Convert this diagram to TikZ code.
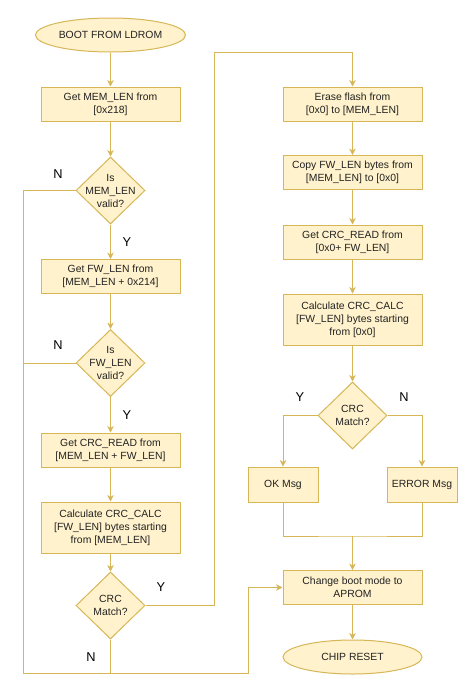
\documentclass[tikz,border=0pt]{standalone}
\usepackage{fontspec}
\setmainfont{Liberation Sans}
\usetikzlibrary{shapes.geometric,arrows.meta}

\definecolor{boxfill}{RGB}{255,242,204}
\definecolor{boxline}{RGB}{214,182,86}
\definecolor{boxtext}{RGB}{34,34,34}

\tikzset{every picture/.style={line width=0.75pt}}
\tikzset{
  process/.style={draw=boxline,fill=boxfill,minimum width=104.25pt,minimum height=25.5pt,inner sep=1pt,align=center,text=boxtext,font=\fontsize{7.8}{9.75}\selectfont},
  terminal/.style={process,ellipse},
  decision/.style={draw=boxline,fill=boxfill,diamond,minimum width=51.75pt,minimum height=50.25pt,inner sep=0pt},
  dtext/.style={align=center,text=boxtext,font=\fontsize{7.8}{9.75}\selectfont},
  flow/.style={draw=boxline,-{Stealth[length=4.8pt,width=4.8pt,inset=1.4pt]}},
  link/.style={draw=boxline},
  yn/.style={text=black,font=\fontsize{9.6}{11}\selectfont}
}

\begin{document}
\begin{tikzpicture}[x=0.75pt,y=0.75pt,yscale=-1,xscale=1]
	\useasboundingbox (0,0) rectangle (474,700);

	%Shape: Ellipse [id:start] 
	\node [terminal] (start) at (110.5,35) {BOOT FROM LDROM};
	%Shape: Rectangle [id:getmem] 
	\node [process] (getmem) at (110.5,104) {Get MEM\_LEN from\\{}[0x218]};
	%Shape: Diamond [id:memok] 
	\node [decision,label={[dtext]center:Is\\MEM\_LEN\\valid?}] (memok) at (110.5,190.5) {};
	%Shape: Rectangle [id:getfw] 
	\node [process] (getfw) at (110.5,276.5) {Get FW\_LEN from\\{}[MEM\_LEN + 0x214]};
	%Shape: Diamond [id:fwok] 
	\node [decision,label={[dtext]center:Is\\FW\_LEN\\valid?}] (fwok) at (110.5,363) {};
	%Shape: Rectangle [id:getcrc] 
	\node [process] (getcrc) at (110.5,450) {Get CRC\_READ from\\{}[MEM\_LEN + FW\_LEN]};
	%Shape: Rectangle [id:calccrc] 
	\node [process,minimum height=38.25pt] (calccrc) at (110.5,527.5) {Calculate CRC\_CALC\\{}[FW\_LEN] bytes starting\\from [MEM\_LEN]};
	%Shape: Diamond [id:crcok] 
	\node [decision,label={[dtext]center:CRC\\Match?}] (crcok) at (110.5,605.5) {};

	%Shape: Rectangle [id:erase] 
	\node [process] (erase) at (352.5,104) {Erase flash from\\{}[0x0] to [MEM\_LEN]};
	%Shape: Rectangle [id:copy] 
	\node [process] (copy) at (352.5,172.5) {Copy FW\_LEN bytes from\\{}[MEM\_LEN] to [0x0]};
	%Shape: Rectangle [id:getcrc2] 
	\node [process] (getcrcb) at (352.5,242) {Get CRC\_READ from\\{}[0x0+ FW\_LEN]};
	%Shape: Rectangle [id:calccrc2] 
	\node [process,minimum height=38.25pt] (calccrcb) at (352.5,319.5) {Calculate CRC\_CALC\\{}[FW\_LEN] bytes starting\\from [0x0]};
	%Shape: Diamond [id:crcokb] 
	\node [decision,label={[dtext]center:CRC\\Match?}] (crcokb) at (352.5,415.5) {};
	%Shape: Rectangle [id:okmsg] 
	\node [process,minimum width=52.5pt,minimum height=26.25pt] (okmsg) at (283,484.5) {OK Msg};
	%Shape: Rectangle [id:errmsg] 
	\node [process,minimum width=52.5pt,minimum height=26.25pt] (errmsg) at (422,484.5) {ERROR Msg};
	%Shape: Rectangle [id:aprom] 
	\node [process] (aprom) at (352.5,587.5) {Change boot mode to\\APROM};
	%Shape: Ellipse [id:reset] 
	\node [terminal] (reset) at (352.5,657) {CHIP RESET};

	% corners of the loops
	\coordinate (nleft) at (23,673);
	\coordinate (nright) at (248,673);
	\coordinate (ytop) at (214,52);
	\coordinate (merge) at (352.5,536);

	%Straight Lines [id:left column] 
	\draw [flow] (start) -- (getmem);
	\draw [flow] (getmem) -- (memok);
	\draw [flow] (memok) -- (getfw);
	\draw [flow] (getfw) -- (fwok);
	\draw [flow] (fwok) -- (getcrc);
	\draw [flow] (getcrc) -- (calccrc);
	\draw [flow] (calccrc) -- (crcok);
	%Straight Lines [id:N loop] 
	\draw [flow] (memok.west) -- (memok.west -| nleft) -- (nleft) -- (nright) |- (aprom.west);
	\draw [link] (fwok.west) -- (fwok.west -| nleft);
	\draw [link] (crcok.south) -- (crcok.south |- nleft);
	%Straight Lines [id:Y jump] 
	\draw [flow] (crcok.east) -| (ytop) -| (erase.north);

	%Straight Lines [id:right column] 
	\draw [flow] (erase) -- (copy);
	\draw [flow] (copy) -- (getcrcb);
	\draw [flow] (getcrcb) -- (calccrcb);
	\draw [flow] (calccrcb) -- (crcokb);
	\draw [flow] (crcokb.west) -| (okmsg.north);
	\draw [flow] (crcokb.east) -| (errmsg.north);
	\draw [link] (okmsg.south) |- (merge) -| (errmsg.south);
	\draw [flow] (merge) -- (aprom);
	\draw [flow] (aprom) -- (reset);

	% Text Node
	\draw (58,174) node [yn] {N};
	% Text Node
	\draw (127,242) node [yn] {Y};
	% Text Node
	\draw (58,345) node [yn] {N};
	% Text Node
	\draw (127,415) node [yn] {Y};
	% Text Node
	\draw (161,587) node [yn] {Y};
	% Text Node
	\draw (91,657) node [yn] {N};
	% Text Node
	\draw (300,397) node [yn] {Y};
	% Text Node
	\draw (404,397) node [yn] {N};

\end{tikzpicture}
\end{document}
